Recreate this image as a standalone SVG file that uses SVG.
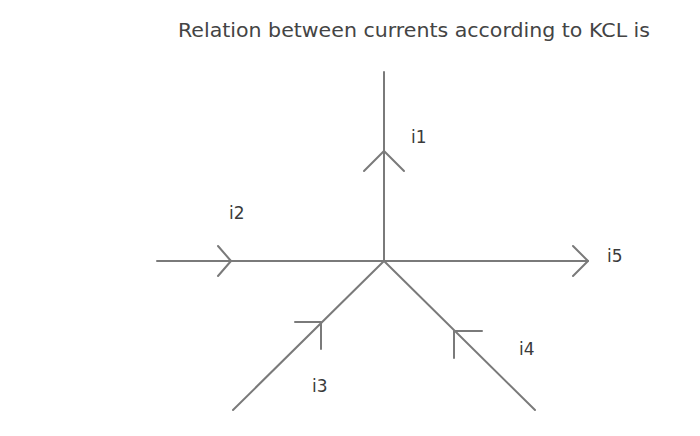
<svg xmlns="http://www.w3.org/2000/svg" width="700" height="436" viewBox="0 0 700 436">
<style>
.ln{stroke:#7a7a7a;stroke-width:2;fill:none;stroke-linecap:round;stroke-linejoin:round}
.lb{font-family:"DejaVu Sans",Verdana,sans-serif;font-size:17px;fill:#3a3a3a}
.tt{font-family:"DejaVu Sans",Verdana,sans-serif;font-size:19px;fill:#444}
</style>
<rect width="700" height="436" fill="#fff"/>
<text id="title" class="tt" x="178" y="37" textLength="472" lengthAdjust="spacingAndGlyphs">Relation between currents according to KCL is</text>
<g id="connectors">
<line class="ln" x1="384" y1="72" x2="384" y2="261"/>
<line class="ln" x1="157" y1="261" x2="588" y2="261"/>
<line class="ln" x1="384" y1="261" x2="233" y2="410"/>
<line class="ln" x1="384" y1="261" x2="535" y2="410"/>
<polyline class="ln" points="364,171 384,151 404,171"/>
<polyline class="ln" points="218,246 231,261 218,276"/>
<polyline class="ln" points="573,246 588,261 573,276"/>
<polyline class="ln" points="295,322 321,322 321,349"/>
<polyline class="ln" points="482,331 454,331 454,358"/>
</g>
<g id="i1"><text class="lb" x="411" y="143">i1</text></g>
<g id="i2"><text class="lb" x="229" y="219">i2</text></g>
<g id="i3"><text class="lb" x="312" y="392">i3</text></g>
<g id="i4"><text class="lb" x="519" y="355">i4</text></g>
<g id="i5"><text class="lb" x="607" y="262">i5</text></g>
</svg>
